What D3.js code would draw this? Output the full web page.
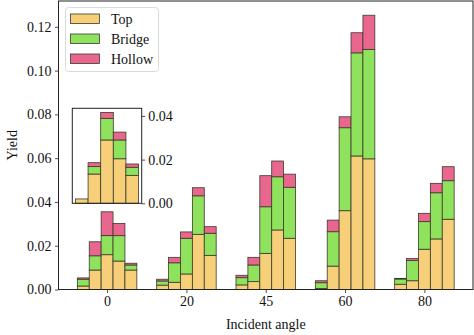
<!DOCTYPE html>
<html>
<head>
<meta charset="utf-8">
<script src="https://cdn.jsdelivr.net/npm/d3@7"></script>
<style>
  html, body { margin: 0; padding: 0; background: #fff; }
  svg { display: block; }
  text { font-family: "Liberation Serif", "DejaVu Serif", serif; fill: #111; }
</style>
</head>
<body>
<svg id="chart" width="474" height="335"></svg>
<script>
// ---- data ----
const angles = ["0", "20", "45", "60", "80"];
const seriesNames = ["Top", "Bridge", "Hollow"];
const seriesColors = ["#f6cf78", "#8fe25c", "#e9668f"];
// per group: 5 bars each (increments of each stacked layer)
const topVals = [
  [0.0016, 0.0089, 0.0159, 0.0130, 0.0089],
  [0.0020, 0.0033, 0.0071, 0.0252, 0.0156],
  [0.0021, 0.0036, 0.0165, 0.0272, 0.0234],
  [0.0005, 0.0107, 0.0360, 0.0610, 0.0597],
  [0.0024, 0.0040, 0.0184, 0.0231, 0.0321]
];
const bridgeVals = [
  [0.0031, 0.0065, 0.0087, 0.0116, 0.0023],
  [0.0019, 0.0089, 0.0163, 0.0176, 0.0101],
  [0.0033, 0.0076, 0.0213, 0.0243, 0.0233],
  [0.0026, 0.0157, 0.0379, 0.0471, 0.0500],
  [0.0024, 0.0092, 0.0126, 0.0211, 0.0176]
];
const hollowVals = [
  [0.0006, 0.0064, 0.0109, 0.0056, 0.0008],
  [0.0008, 0.0025, 0.0029, 0.0037, 0.0030],
  [0.0011, 0.0035, 0.0142, 0.0072, 0.0060],
  [0.0009, 0.0053, 0.0050, 0.0092, 0.0156],
  [0.0003, 0.0010, 0.0038, 0.0043, 0.0064]
];
// inset (one group of 5 bars)
const insetTop    = [0.0020, 0.0134, 0.0290, 0.0204, 0.0128];
const insetBridge = [0.0000, 0.0034, 0.0099, 0.0086, 0.0037];
const insetHollow = [0.0000, 0.0018, 0.0027, 0.0036, 0.0015];
const yTicks = [0.00, 0.02, 0.04, 0.06, 0.08, 0.10, 0.12];
const insetTicks = [0.00, 0.02, 0.04];

// ---- layout ----
const svg = d3.select("#chart");
const L = 58.5, R = 473, T = 1, B = 289.5;
const barW = 0.15;
const x = d3.scaleLinear().domain([-0.6125, 4.6125]).range([L, R]);
const y = d3.scaleLinear().domain([0, 0.1318]).range([B, T]);
const stroke = "#3b3a2e";

function stackOf(t, b, h) {
  return [[0, t], [t, t + b], [t + b, t + b + h]];
}

// bars
const gBars = svg.append("g");
angles.forEach((a, gi) => {
  for (let j = 0; j < 5; j++) {
    const st = stackOf(topVals[gi][j], bridgeVals[gi][j], hollowVals[gi][j]);
    const cx = gi + (j - 2) * barW;
    st.forEach((seg, si) => {
      if (seg[1] - seg[0] <= 0) return;
      gBars.append("rect")
        .attr("x", x(cx - barW / 2))
        .attr("width", x(cx + barW / 2) - x(cx - barW / 2))
        .attr("y", y(seg[1]))
        .attr("height", y(seg[0]) - y(seg[1]))
        .attr("fill", seriesColors[si])
        .attr("stroke", stroke)
        .attr("stroke-width", 0.8);
    });
  }
});

// axes
const xAxis = d3.axisBottom(x).tickValues(d3.range(angles.length))
  .tickFormat(i => angles[i]).tickSize(3.5).tickPadding(3.5);
const gx = svg.append("g").attr("transform", `translate(0,${B})`).call(xAxis);
const yAxis = d3.axisLeft(y).tickValues(yTicks).tickFormat(d3.format(".2f"))
  .tickSize(3.5).tickPadding(3.5);
const gy = svg.append("g").attr("transform", `translate(${L},0)`).call(yAxis);
[gx, gy].forEach(g => {
  g.select(".domain").remove();
  g.selectAll("line").attr("stroke", "#222").attr("stroke-width", 0.8);
  g.selectAll("text").attr("font-size", 14).attr("font-family", "Liberation Serif").attr("fill", "#111");
});

// frame
svg.append("rect").attr("x", L).attr("y", T).attr("width", R - L).attr("height", B - T)
  .attr("fill", "none").attr("stroke", "#222").attr("stroke-width", 1);

// axis titles
svg.append("text").attr("x", (L + R) / 2).attr("y", 329).attr("text-anchor", "middle")
  .attr("font-size", 14).text("Incident angle");
svg.append("text").attr("transform", `translate(17,${(T + B) / 2}) rotate(-90)`)
  .attr("text-anchor", "middle").attr("font-size", 14).text("Yield");

// legend
const lg = svg.append("g");
lg.append("rect").attr("x", 65.5).attr("y", 7.5).attr("width", 93).attr("height", 64)
  .attr("rx", 3).attr("fill", "#fff").attr("fill-opacity", 0.8)
  .attr("stroke", "#d0d0d0").attr("stroke-width", 0.8);
seriesNames.forEach((n, i) => {
  const yy = 14 + i * 20;
  lg.append("rect").attr("x", 70.5).attr("y", yy).attr("width", 29).attr("height", 9.5)
    .attr("fill", seriesColors[i]).attr("stroke", stroke).attr("stroke-width", 0.8);
  lg.append("text").attr("x", 111).attr("y", yy + 9.5).attr("font-size", 14).text(n);
});

// inset
const iL = 72.3, iR = 141.7, iT = 108.3, iB = 203.3;
const ix = d3.scaleLinear().domain([-0.4125, 0.4125]).range([iL, iR]);
const iy = d3.scaleLinear().domain([0, 0.0435]).range([iB, iT]);
const gIn = svg.append("g");
gIn.append("rect").attr("x", iL).attr("y", iT).attr("width", iR - iL).attr("height", iB - iT)
  .attr("fill", "#fff");
for (let j = 0; j < 5; j++) {
  const st = stackOf(insetTop[j], insetBridge[j], insetHollow[j]);
  const cx = (j - 2) * barW;
  st.forEach((seg, si) => {
    if (seg[1] - seg[0] <= 0) return;
    gIn.append("rect")
      .attr("x", ix(cx - barW / 2))
      .attr("width", ix(cx + barW / 2) - ix(cx - barW / 2))
      .attr("y", iy(seg[1]))
      .attr("height", iy(seg[0]) - iy(seg[1]))
      .attr("fill", seriesColors[si])
      .attr("stroke", stroke)
      .attr("stroke-width", 0.8);
  });
}
const iyAxis = d3.axisRight(iy).tickValues(insetTicks).tickFormat(d3.format(".2f"))
  .tickSize(3.5).tickPadding(3);
const giy = gIn.append("g").attr("transform", `translate(${iR},0)`).call(iyAxis);
giy.select(".domain").remove();
giy.selectAll("line").attr("stroke", "#222").attr("stroke-width", 0.8);
giy.selectAll("text").attr("font-size", 14).attr("font-family", "Liberation Serif").attr("fill", "#111");
gIn.append("rect").attr("x", iL).attr("y", iT).attr("width", iR - iL).attr("height", iB - iT)
  .attr("fill", "none").attr("stroke", "#222").attr("stroke-width", 1);
</script>
</body>
</html>
